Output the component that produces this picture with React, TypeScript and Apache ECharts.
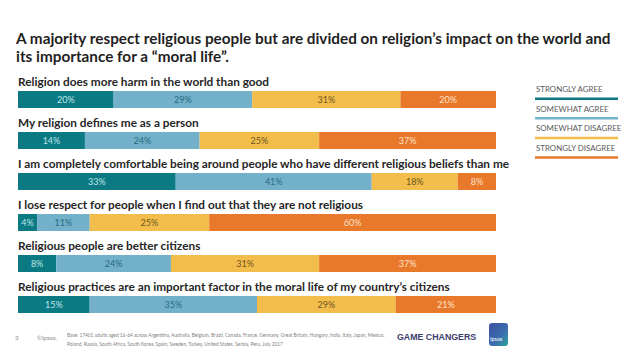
import React, { useEffect, useRef } from "react";
import * as echarts from "echarts";

const categories = [
  "Religion does more harm in the world than good",
  "My religion defines me as a person",
  "I am completely comfortable being around people who have different religious beliefs than me",
  "I lose respect for people when I find out that they are not religious",
  "Religious people are better citizens",
  "Religious practices are an important factor in the moral life of my country\u2019s citizens",
];
const seriesNames = ["STRONGLY AGREE", "SOMEWHAT AGREE", "SOMEWHAT DISAGREE", "STRONGLY DISAGREE"];
const stronglyAgree = [20, 14, 33, 4, 8, 15];
const somewhatAgree = [29, 24, 41, 11, 24, 35];
const somewhatDisagree = [31, 25, 18, 25, 31, 29];
const stronglyDisagree = [20, 37, 8, 60, 37, 21];

const titleText =
  "A majority respect religious people but are divided on religion\u2019s impact on the world and\nits importance for a \u201cmoral life\u201d.";
const footNote =
  "Base: 17401 adults aged 16-64 across Argentina, Australia, Belgium, Brazil, Canada, France, Germany, Great Britain, Hungary, India, Italy, Japan, Mexico,\nPoland, Russia, South Africa, South Korea, Spain, Sweden, Turkey, United States, Serbia, Peru, July 2017";

const colors = ["#0b7a83", "#72b1c9", "#f2bd4b", "#e8782a"];
const labelColors = ["#bfe6ea", "#2a6a82", "#6e5620", "#fde3cc"];
const FONT = "Lato, 'Open Sans', sans-serif";

export default function App() {
  const ref = useRef<HTMLDivElement>(null);
  useEffect(() => {
    if (!ref.current) return;
    const chart = echarts.init(ref.current, null, { renderer: "svg" });
    const data = [stronglyAgree, somewhatAgree, somewhatDisagree, stronglyDisagree];
    const legendGraphics: any[] = [];
    seriesNames.forEach((n, i) => {
      legendGraphics.push({
        type: "text",
        left: 536,
        top: 85 + i * 19.6,
        style: { text: n, fill: "#595959", fontSize: 7.9, fontFamily: FONT },
      });
      legendGraphics.push({
        type: "rect",
        shape: { x: 535, y: 97.5 + i * 19.6, width: 83, height: 2.5 },
        style: { fill: colors[i] },
      });
    });
    chart.setOption({
      animation: false,
      backgroundColor: "#ffffff",
      title: {
        text: titleText,
        left: 16,
        top: 29,
        padding: 0,
        textStyle: {
          fontSize: 15.3,
          fontWeight: "bold",
          color: "#1f1f1f",
          lineHeight: 18,
          fontFamily: FONT,
        },
      },
      grid: { left: 18, right: 142, top: 79, bottom: 34 },
      xAxis: { type: "value", min: 0, max: 100, show: false },
      yAxis: {
        type: "category",
        inverse: true,
        data: categories,
        axisLine: { show: false },
        axisTick: { show: false },
        splitLine: { show: false },
        axisLabel: {
          inside: true,
          interval: 0,
          margin: 0,
          align: "left",
          verticalAlign: "bottom",
          padding: [0, 0, 12, 0],
          lineHeight: 13,
          fontSize: 11.8,
          fontWeight: "bold",
          color: "#262626",
          fontFamily: FONT,
        },
      },
      series: seriesNames.map((name, i) => ({
        name,
        type: "bar",
        stack: "total",
        barWidth: 17,
        data: data[i],
        itemStyle: { color: colors[i] },
        label: {
          show: true,
          position: "inside",
          formatter: "{c}%",
          fontSize: 9,
          color: labelColors[i],
          fontFamily: FONT,
        },
      })),
      graphic: [
        ...legendGraphics,
        {
          type: "text",
          left: 15,
          top: 334,
          style: { text: "3", fill: "#8c8c8c", fontSize: 6, fontFamily: FONT },
        },
        {
          type: "text",
          left: 37,
          top: 334,
          style: { text: "\u00a9Ipsos.", fill: "#8c8c8c", fontSize: 6, fontFamily: FONT },
        },
        {
          type: "text",
          left: 67,
          top: 330,
          style: {
            text: footNote,
            fill: "#7f7f7f",
            fontSize: 4.8,
            lineHeight: 9,
            fontFamily: FONT,
          },
        },
        {
          type: "text",
          left: 397,
          top: 332,
          style: {
            text: "GAME CHANGERS",
            fill: "#3c3c6e",
            fontSize: 8.8,
            fontWeight: "bold",
            fontFamily: "'Liberation Sans', Arial, sans-serif",
          },
        },
        {
          type: "rect",
          shape: { x: 489, y: 323, width: 19, height: 23, r: 3 },
          style: {
            fill: new echarts.graphic.LinearGradient(0, 0, 1, 1, [
              { offset: 0, color: "#3f4fa0" },
              { offset: 0.6, color: "#3a6fb0" },
              { offset: 1, color: "#2aa59a" },
            ]),
          },
        },
        {
          type: "text",
          left: 490,
          top: 336,
          style: { text: "Ipsos", fill: "#ffffff", fontSize: 5.5, fontFamily: FONT },
        },
      ],
    });
    return () => chart.dispose();
  }, []);
  return <div ref={ref} style={{ width: 638, height: 359, position: "absolute", left: 0, top: 0 }} />;
}
